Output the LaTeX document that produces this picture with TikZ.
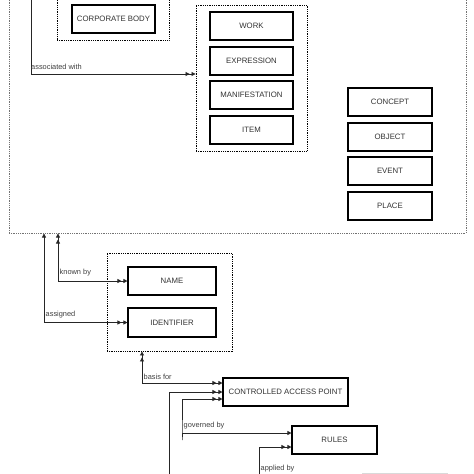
\documentclass[tikz,border=0pt]{standalone}
\usepackage{fontspec}
\setmainfont{Liberation Sans}
\usetikzlibrary{arrows.meta}
\tikzset{
  ent/.style={draw=black, line width=1.1pt, fill=white, inner sep=0pt, font=\fontsize{7.8}{9}\selectfont, text=black!80},
  grp/.style={draw=black, line width=0.9pt, dash pattern=on 0.9pt off 0.9pt},
  outergrp/.style={draw=black!55, line width=1pt, dash pattern=on 0.9pt off 0.9pt},
  conn/.style={draw=black!85, line width=0.8pt},
  lbl/.style={font=\fontsize{7.4}{8}\selectfont, text=black!75, inner sep=0pt, anchor=west},
  one/.tip={Triangle[length=4pt,width=4pt]},
  two/.tip={Triangle[length=4pt,width=4pt,sep=2pt]Triangle[length=4pt,width=4pt]},
}
\begin{document}
\begin{tikzpicture}[x=1pt,y=-1pt]
\clip (0,0) rectangle (474,474);
\fill[white] (0,0) rectangle (474,474);
% outer group
\node[outergrp, minimum width=457pt, minimum height=313pt] (outer) at (237.5,76.5) {};
% corporate group
\node[grp, minimum width=112pt, minimum height=80pt] (corpgrp) at (113,0) {};
\node[ent, minimum width=83pt, minimum height=28pt] (corp) at (113.5,19) {CORPORATE BODY};
% FRBR group
\node[grp, minimum width=111pt, minimum height=146pt] (frbrgrp) at (251.5,78) {};
\node[ent, minimum width=83pt, minimum height=28pt] (work) at (251.5,26) {WORK};
\node[ent, minimum width=83pt, minimum height=28pt] (expr) at (251.5,61) {EXPRESSION};
\node[ent, minimum width=83pt, minimum height=28pt] (mani) at (251.5,95) {MANIFESTATION};
\node[ent, minimum width=83pt, minimum height=28pt] (item) at (251.5,130) {ITEM};
% subjects
\node[ent, minimum width=84pt, minimum height=28pt] (concept) at (390,102) {CONCEPT};
\node[ent, minimum width=84pt, minimum height=28pt] (object) at (390,137) {OBJECT};
\node[ent, minimum width=84pt, minimum height=28pt] (event) at (390,171) {EVENT};
\node[ent, minimum width=84pt, minimum height=28pt] (place) at (390,206) {PLACE};
% name group
\node[grp, minimum width=125pt, minimum height=98pt] (idgrp) at (169.5,302) {};
\node[ent, minimum width=88pt, minimum height=28pt] (name) at (172,281) {NAME};
\node[ent, minimum width=88pt, minimum height=29pt] (ident) at (172,322.5) {IDENTIFIER};
% access point & rules
\node[ent, minimum width=125pt, minimum height=28pt] (cap) at (285.5,392) {CONTROLLED ACCESS POINT};
\node[ent, minimum width=85pt, minimum height=28pt] (rules) at (334.5,440) {RULES};
\node[draw=black!15, line width=1pt, minimum width=85pt, minimum height=30pt] (nextbox) at (404.5,488) {};
% coordinates
\coordinate (assocstart) at (31,-10);
\coordinate (knownx) at (58,0);
\coordinate (assignx) at (44,0);
\coordinate (basisx) at (142,0);
\coordinate (govx) at (182,0);
\coordinate (downa) at (169,490);
\coordinate (downb) at (259,490);
% connectors
\draw[conn, -{two}] (assocstart) |- ([yshift=4pt]frbrgrp.west);
\node[lbl] (assoclbl) at (31,67) {associated with};
\draw[conn, {two}-{two}] (name.west) -| (outer.south -| knownx);
\node[lbl] (knownlbl) at (59.5,273) {known by};
\draw[conn, {two}-{one}] (ident.west) -| (outer.south -| assignx);
\node[lbl] (assignlbl) at (45.5,315) {assigned};
\draw[conn, {two}-{two}] ([yshift=9pt]cap.west) -| (idgrp.south -| basisx);
\node[lbl] (basislbl) at (143.5,377) {basis for};
\draw[conn, {two}-] (cap.west) -| (downa);
\draw[conn, {two}-{one}] ([yshift=-7pt]cap.west) -| (govx |- rules.west) |- ([yshift=7pt]rules.west);
\node[lbl] (govlbl) at (183.5,426) {governed by};
\draw[conn, {two}-] ([yshift=-7pt]rules.west) -| (downb);
\node[lbl] (applbl) at (260.5,469) {applied by};
\end{tikzpicture}
\end{document}
